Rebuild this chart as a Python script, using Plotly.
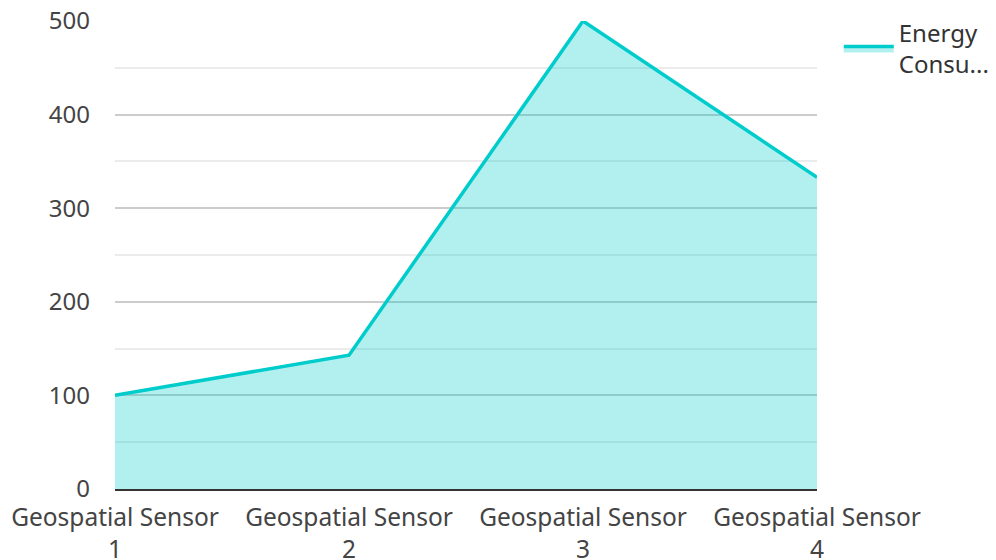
import plotly.graph_objects as go

categories = ["Geospatial Sensor<br>1", "Geospatial Sensor<br>2", "Geospatial Sensor<br>3", "Geospatial Sensor<br>4"]
energy = [100, 143, 500, 333]
series_name = "Energy<br>Consu..."
y_ticks = [0, 100, 200, 300, 400, 500]

fig = go.Figure()
fig.add_trace(go.Scatter(
    x=categories, y=energy, name=series_name, mode="lines",
    line=dict(color="#00CCCC", width=3.5),
    fill="tozeroy", fillcolor="rgba(0,204,204,0.3)",
    showlegend=True,
))

fig.update_layout(
    width=996, height=560,
    margin=dict(l=115, r=179, t=21, b=71, autoexpand=False),
    paper_bgcolor="white", plot_bgcolor="white",
    font=dict(family="Noto Sans", size=24, color="#444"),
    legend=dict(x=1.031, y=1.022, xanchor="left", yanchor="top", font=dict(size=24, color="#333"),
                bgcolor="rgba(0,0,0,0)", itemwidth=50),
    xaxis=dict(range=[0, 3], showgrid=False, showline=True, linecolor="#333", linewidth=2,
               ticks="", tickfont=dict(size=24.5, color="#444"), automargin=False,
               ticklabelstandoff=6),
    yaxis=dict(range=[0, 500], tickvals=y_ticks, showgrid=True, gridcolor="#cccccc", gridwidth=1.5,
               zeroline=False, ticks="", tickfont=dict(size=24, color="#444"), ticklabelstandoff=24,
               automargin=False,
               minor=dict(dtick=50, showgrid=True, gridcolor="#ebebeb", gridwidth=1.5)),
)

fig.write_html("out.html")
